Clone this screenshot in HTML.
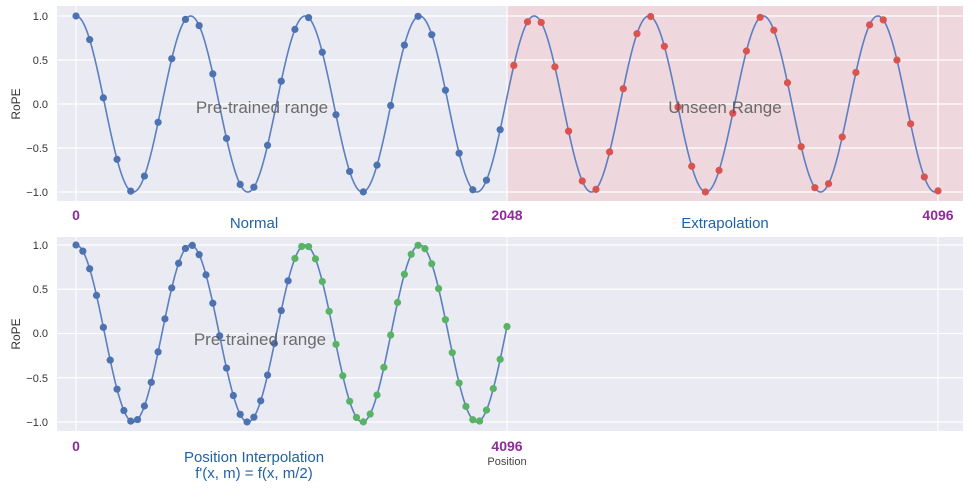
<!DOCTYPE html>
<html><head><meta charset="utf-8"><style>
body{margin:0;background:#fff;}
svg{display:block;font-family:"Liberation Sans",sans-serif;}
</style></head><body>
<svg id="s" width="969" height="493" viewBox="0 0 969 493">
<rect x="57" y="6" width="906" height="195" fill="#eaeaf2"/>
<rect x="507" y="6" width="456" height="195" fill="#efd7de"/>
<rect x="57" y="237" width="906" height="194" fill="#eaeaf2"/>
<g id="grid" stroke="#fff" stroke-width="1.2"></g>
<g id="curves"></g>
<g font-size="11" fill="#333" text-anchor="end">
<text x="48" y="20">1.0</text><text x="48" y="64">0.5</text><text x="48" y="108">0.0</text><text x="48" y="152">−0.5</text><text x="48" y="196">−1.0</text>
<text x="48" y="249">1.0</text><text x="48" y="293">0.5</text><text x="48" y="337">0.0</text><text x="48" y="382">−0.5</text><text x="48" y="426">−1.0</text>
</g>
<text transform="translate(20,104) rotate(-90)" font-size="12" fill="#333" text-anchor="middle">RoPE</text>
<text transform="translate(20,334) rotate(-90)" font-size="12" fill="#333" text-anchor="middle">RoPE</text>
<g font-size="17" fill="#555" fill-opacity="0.85" text-anchor="middle">
<text x="262" y="113">Pre-trained range</text>
<text x="725" y="113">Unseen Range</text>
<text x="260" y="345">Pre-trained range</text>
</g>
<g font-size="14" font-weight="bold" fill="#8e2a9c" text-anchor="middle">
<text x="76" y="220">0</text><text x="507" y="220">2048</text><text x="938" y="220">4096</text>
<text x="76" y="451">0</text><text x="507" y="451">4096</text>
</g>
<text x="507" y="465" font-size="11" fill="#444" text-anchor="middle">Position</text>
<g font-size="15" fill="#1f62a8" text-anchor="middle">
<text x="254" y="228">Normal</text>
<text x="725" y="228">Extrapolation</text>
<text x="254" y="462">Position Interpolation</text>
<text x="254" y="478">f'(x, m) = f(x, m/2)</text>
</g>
</svg>
<script>
var NS="http://www.w3.org/2000/svg";
var s=862/63, th=0.7505;
function f(x){return Math.cos(th*(x-76)/s);}
var g=document.getElementById('grid'),c=document.getElementById('curves');
function el(p,t,a){var e=document.createElementNS(NS,t);for(var k in a)e.setAttribute(k,a[k]);p.appendChild(e);return e;}
[[16,192,6,201],[245,422,237,431]].forEach(function(p){
 for(var i=0;i<5;i++){var y=p[0]+(p[1]-p[0])*i/4;el(g,'line',{x1:57,x2:963,y1:y,y2:y});}
 [76,507,938].forEach(function(x){el(g,'line',{x1:x,x2:x,y1:p[2],y2:p[3]});});
});
function curve(y0,amp,x1){var d='';for(var x=76;x<=x1;x+=0.5){d+=(d?'L':'M')+x.toFixed(1)+','+(y0-amp*f(x)).toFixed(2);}
 el(c,'path',{d:d,fill:'none',stroke:'#5b7fc1','stroke-width':1.6});}
curve(104,88,938);curve(333.5,88.5,507);
for(var i=0;i<64;i++){var x=76+i*s;el(c,'circle',{cx:x,cy:104-88*f(x),r:3.6,fill:i<32?'#4c72b0':'#d9534f'});}
for(var j=0;j<64;j++){var x=76+j*s/2;el(c,'circle',{cx:x,cy:333.5-88.5*f(x),r:3.6,fill:j<32?'#4c72b0':'#58b365'});}
</script>
</body></html>
